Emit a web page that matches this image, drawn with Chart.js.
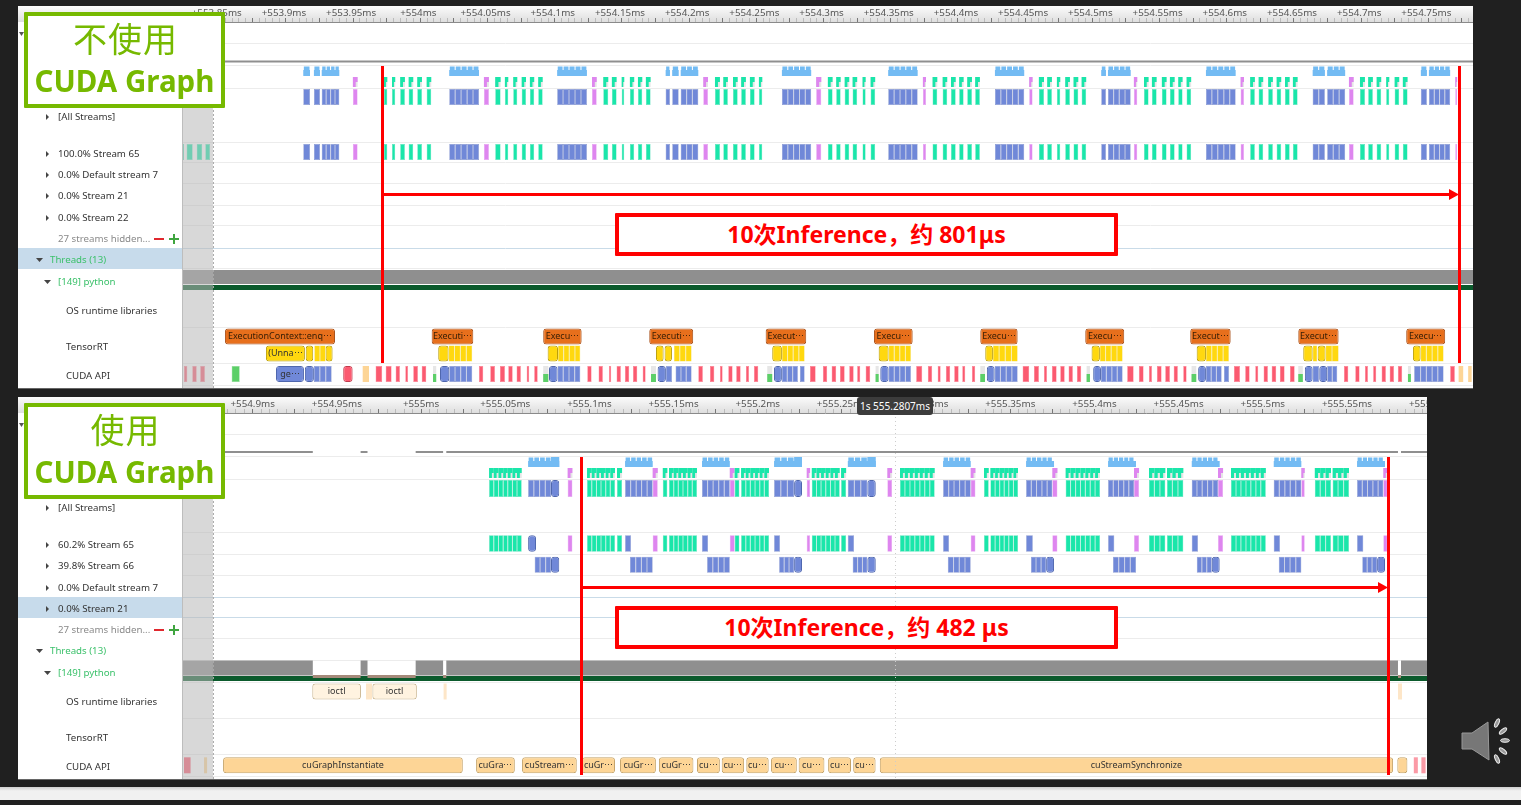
<!DOCTYPE html>
<html>
<head>
<meta charset="utf-8">
<title>CUDA Graph timeline</title>
<script src="https://cdn.jsdelivr.net/npm/chart.js@4"></script>
<style>
  html, body { margin: 0; width: 1521px; height: 805px; overflow: hidden; background: #202020; font-family: "Noto Sans", sans-serif; }
  .panel { position: absolute; left: 18px; height: 382px; background: #fff; overflow: hidden; box-shadow: 0 1px 0 #666; }
  .panel .head { position: absolute; left: 0; top: 0; right: 0; height: 16px; background: linear-gradient(#fbfbfb, #dedede); }
  .panel canvas { position: absolute; left: 0; top: 0; filter: blur(0.3px); }
  #p1 { top: 6px; width: 1455px; }
  #p2 { top: 397px; width: 1409px; }
  #footer { position: absolute; left: 0; top: 787px; width: 1521px; height: 13px; background: linear-gradient(#cfcfcf, #f1f1f1 30%); }
  .tag { position: absolute; left: 24px; width: 193px; height: 88px; border: 4px solid #76b900; background: #fff; color: #76b900; text-align: center; border-radius: 1px; }
  .tag .cn { font: 400 34px/40px "Noto Sans CJK SC"; height: 42px; margin-top: 2px; letter-spacing: 1px; text-indent: 2px; }
  .tag .en { font: 700 29.5px/42px "Noto Sans"; white-space: nowrap; }
  .note { position: absolute; left: 615px; width: 495px; height: 35px; border: 4px solid #f00; background: #fff; color: #f00; text-align: center; font: 700 23px/35px "Noto Sans", "Noto Sans CJK SC"; border-radius: 1px; white-space: nowrap; }
  #cursor { position: absolute; left: 857px; top: 397px; width: 76px; height: 18px; background: #3c3c3c; border-radius: 3px; color: #fff; font: 10px/19px "Noto Sans"; text-align: center; }
  svg { position: absolute; left: 0; top: 0; }
</style>
</head>
<body>
<div id="footer"></div>
<div class="panel" id="p1"><div class="head"></div><canvas id="chart1" width="1455" height="382"></canvas></div>
<div class="panel" id="p2"><div class="head"></div><canvas id="chart2" width="1449" height="382"></canvas></div>

<svg width="1521" height="805">
  <g fill="#f00" stroke="none">
    <rect x="381" y="66" width="3" height="297"/><rect x="1458" y="66" width="3" height="297"/>
    <rect x="383" y="193" width="1066" height="3"/><polygon points="1449,189 1459,194.5 1449,200"/>
    <rect x="580" y="457" width="3" height="318"/><rect x="1387" y="457" width="3" height="318"/>
    <rect x="582" y="586" width="797" height="3"/><polygon points="1378,582 1388,587.5 1378,593"/>
  </g>
  <g>
    <polygon points="1462,733 1472,733 1488,722 1489,760 1472,749 1462,749" fill="#777" stroke="#999"/>
    <g fill="#999" stroke="#eee">
      <ellipse cx="1497" cy="723" rx="1.8" ry="4.5" transform="rotate(25 1497 723)"/>
      <ellipse cx="1503" cy="731" rx="1.8" ry="4.5" transform="rotate(50 1503 731)"/>
      <ellipse cx="1505" cy="740.5" rx="1.8" ry="4.5" transform="rotate(90 1505 740.5)"/>
      <ellipse cx="1503" cy="751" rx="1.8" ry="4.5" transform="rotate(130 1503 751)"/>
      <ellipse cx="1497" cy="759" rx="1.8" ry="4.5" transform="rotate(155 1497 759)"/>
    </g>
  </g>
</svg>

<div class="tag" style="top:12px"><div class="cn">不使用</div><div class="en">CUDA Graph</div></div>
<div class="tag" style="top:403px"><div class="cn">使用</div><div class="en">CUDA Graph</div></div>
<div class="note" style="top:213px">10次Inference，约 801μs</div>
<div class="note" style="top:606px">10次Inference，约 482 μs</div>
<div id="cursor">1s 555.2807ms</div>

<script>
// ── Row names ─────────────────────────────────────────
const rowNames1 = ['[All Streams]', '100.0% Stream 65', '0.0% Default stream 7', '0.0% Stream 21', '0.0% Stream 22', '27 streams hidden...', 'Threads (13)', '[149] python', 'OS runtime libraries', 'TensorRT', 'CUDA API'];
const rowNames2 = ['[All Streams]', '60.2% Stream 65', '39.8% Stream 66', '0.0% Default stream 7', '0.0% Stream 21', '27 streams hidden...', 'Threads (13)', '[149] python', 'OS runtime libraries', 'TensorRT', 'CUDA API'];

// ── Top capture, no graph (microseconds after 553 ms) ─
// each run lists the cell edges of touching slices
const blue1 = [[912.9,917.9],[920.8,925.3],[926.6,929.9,933.2,936.5,939.7],[1021.5,1025.9,1030.3,1034.8,1039.2,1043.6],[1101.8,1106.2,1110.6,1115.1,1119.5,1123.9],[1182.5,1185.7],[1187.4,1192.2],[1193.7,1198.1,1202.4,1206.8],[1269,1273.4,1277.7,1282.1,1286.4,1290.8],[1348.1,1352.5,1356.9,1361.2,1365.6,1370],[1427.5,1431.9,1436.2,1440.6,1444.9,1449.3],[1506.6,1510.1],[1511.6,1515.8,1520,1524.3,1528.5],[1584.5,1588.9,1593.3,1597.8,1602.2,1606.6],[1663.9,1668.4,1673],[1674.7,1679.2,1683.6,1688.1],[1744.4,1748.9],[1750.4,1754.4,1758.3,1762.2,1766.2]];
const blueSpans1 = [[912.9,917.9],[920.8,925.3],[926.6,939.7],[1021.5,1043.6],[1101.8,1123.9],[1182.5,1185.7],[1187.4,1192.2],[1193.7,1206.8],[1269,1290.8],[1348.1,1370],[1427.5,1449.3],[1506.6,1510.1],[1511.6,1528.5],[1584.5,1606.6],[1663.9,1673],[1674.7,1688.1],[1744.4,1748.9],[1750.4,1766.2]];
const pink1 = [[949.8,953.3],[1047.3,1051],[1127.7,1131.2],[1210.5,1214],[1294.5,1298.3],[1373.9,1376.2],[1453,1455.5],[1530.9,1533.4],[1610.3,1612.8],[1690.9,1694.4],[1770,1771.4]];
const green1 = [[972.9,975.4],[978.9,981.3],[985,988.5],[991.3,994.7],[997.7,1001.2],[1004.7,1008.1],
  [1055.7,1059.7],[1062.9,1065.4],[1069.1,1072.1],[1075.4,1078.6],[1081.5,1084.7],[1087.7,1091],
  [1136.1,1139.8],[1142.5,1146],[1149.8,1151.7],[1155.9,1159.1],[1161.9,1165.1],[1167.8,1171.3],
  [1219.2,1222.9],[1225.4,1228.8],[1232.6,1236.1],[1238.7,1242.2],[1245.2,1248.7],[1251.9,1254.4],
  [1303.2,1306.7],[1309.4,1312.7],[1315.7,1319.1],[1321.6,1325],[1329,1331.3],[1335,1338.4],
  [1381.1,1384.6],[1388.6,1392],[1394.8,1398.3],[1400.9,1404.2],[1406.9,1410.4],[1412.8,1416.3],
  [1460.2,1464],[1466.4,1469.9],[1473.6,1476.1],[1479.8,1483.3],[1486,1489.5],[1492,1495.4],
  [1538.4,1541.8],[1544.3,1547.8],[1551.7,1555.2],[1557.7,1561.2],[1563.9,1567.1],[1570.1,1573.5],
  [1617.4,1620.9],[1623.7,1627.1],[1630.8,1634.3],[1637.1,1640.5],[1643.3,1646.8],[1649.2,1652.7],
  [1699.1,1702.8],[1705.2,1708.7],[1711.5,1714.9],[1718.6,1720.9],[1724.9,1728.3],[1731,1734.5]];
const streamFade1 = [[823.4,824.1],[826.1,830.6],[833.6,837.7],[840,843.5]];

const cpuBusy1 = [[823.4,1783.2]];
const tensorOuter1 = [[854.6,936.5],[1008.4,1039.4],[1091.4,1120],[1170.3,1203],[1256.9,1287.1],[1337.5,1366.3],[1416.6,1444.4],[1494.7,1523.7],[1572.8,1602.9],[1653.2,1683.2],[1733.5,1762.5]];
const tensorNames1 = ['ExecutionContext::enq⋯', 'Executi⋯', 'Execu⋯', 'Executi⋯', 'Execut⋯', 'Execu⋯', 'Execu⋯', 'Execu⋯', 'Execut⋯', 'Execut⋯', 'Execu⋯'];
const tensorCalls1 = [[885.1,914.1],[914.7,920.3],[929.5,934.7],[1013.3,1021],[1094.7,1102.4],[1175.3,1181],[1181.7,1187.2],[1261.8,1269],[1341,1348.4],[1420.3,1426],[1499.4,1505.6],[1577.6,1584.5],[1656.9,1663.9],[1667.6,1673.5],[1738.5,1744.2]];
const tensorCallNames1 = ['(Unna⋯'];
const tensorSlices1 = [[921.1,925.3,929.5],[1021,1025.4,1029.8,1034.2,1038.6],[1102.4,1106.6,1110.8,1115,1119],[1188.7,1193,1197.4,1201.8],[1269,1273.2,1277.4,1281.6,1285.9],[1348.4,1352.6,1356.7,1360.9,1365],[1426,1430.6,1435.2,1439.8,1444.4],[1505.6,1509.8,1514,1518.3,1522.5],[1584.5,1588.8,1593,1597.3,1601.6],[1663.9,1667.3],[1673.5,1678.3,1683.2],[1744.2,1748.5,1752.8,1757,1761.3]];

const apiCalls1 = [[892.6,913.4],[914.1,920.8],[1014.6,1021.5],[1095.7,1102.1],[1176.5,1182.7],[1263.1,1269],[1342.2,1348.4],[1421.5,1427.3],[1500.6,1506.4],[1578.7,1584.5],[1658.1,1663.9],[1668.8,1674.7]];
const apiCallNames1 = ['ge⋯'];
const apiSlices1 = [[920.8,925.2,929.6,934],[1021.5,1025.8,1030,1034.3,1038.6],[1102.1,1106.3,1110.6,1114.8,1119],[1182.7,1187.2],[1189.9,1193.9,1197.8,1201.8],[1269,1273,1277,1280.9],[1282.4,1285.9],[1348.4,1352.6,1356.7,1360.9,1365],[1427.3,1431.6,1435.9,1440.1,1444.4],[1506.4,1510.4,1514.5,1518.5,1522.5],[1584.5,1588.4,1592.3,1596.2],[1597.9,1601.6],[1663.9,1668.6],[1674.7,1678.5,1682.2],[1739.4,1744.2],[1744.2,1748.5,1752.8,1757,1761.3]];
const apiRed1 = [[966.7,971.6],[974.2,978.6],[981.6,984.8],[988.8,990.8],[994.7,998.2],[1001,1004.4],
  [1043.6,1046.8],[1052,1055.5],[1059.2,1062.9],[1065.4,1068.7],[1071.6,1074.8],[1079.1,1081],[1084.7,1087.3],
  [1124.2,1127.4],[1132.6,1135.8],[1140.3,1142],[1146,1149.2],[1152.2,1155.4],[1158.2,1161.4],[1165.4,1167.6],
  [1206.8,1210.2],[1215.5,1218.7],[1222.9,1224.9],[1229.1,1232.3],[1235,1238.3],[1242.2,1244.5],[1248.2,1251.4],
  [1289.9,1294.1],[1299.5,1302.7],[1306,1309.4],[1312.2,1315.7],[1319.1,1322.4],[1325,1327.3],[1331.3,1334.7],
  [1368.9,1373.4],[1377.6,1380.8],[1384.9,1387.1],[1391,1394.2],[1397.2,1400.5],[1403.2,1405.4],[1410.4,1412.8],
  [1448.1,1453],[1456.5,1460.2],[1464,1466.2],[1469.9,1473.4],[1476.1,1479.4],[1482.3,1485.5],[1488.5,1491.7],
  [1525.9,1530.7],[1534.6,1538.1],[1542.1,1544.3],[1548,1551.5],[1554.2,1557.7],[1560.5,1563.6],[1567.6,1570.1],
  [1605.3,1609.8],[1613.7,1617],[1621.2,1623.4],[1627.4,1630.6],[1633.4,1636.8],[1639.5,1643],[1647,1650.5],
  [1687.2,1690.4],[1695.6,1698.8],[1702.8,1705],[1708.9,1711.2],[1715.2,1718.4],[1721.2,1724.4],[1727.3,1730.5],
  [1766.2,1769.7]];
const apiRedRound1 = [[942.6,949.6]];
const apiFade1 = [[824.1,826.6],[830.3,833.6],[836.2,839.7]];
const apiGreenTall1 = [[859.6,865.6]];
const apiGreenLow1 = [[1009.4,1011.8],[1091.4,1095.2],[1171.6,1175.3],[1258.1,1261.8],[1338.7,1341],[1416.6,1420.1],[1495.7,1498.2],[1573.8,1577.3],[1653.2,1656.6],[1734.8,1737]];
const apiOrange1 = [[957.1,961.8],[1772.5,1775.9],[1779.6,1782.2]];

// ── Bottom capture, with graph (microseconds after 554 ms) ─
const blue2 = [[1063.6,1067,1070.4,1073.8,1077.2],[1121.2,1124.5,1127.8,1131,1134.3,1137.6],[1166.9,1170.2,1173.5,1176.8,1180.1,1183.4],[1209.7,1213.7,1217.6,1221.6],[1253.5,1257.4,1261.2,1265.1],[1310.1,1313.4,1316.6,1319.9,1323.2,1326.5],[1359.4,1362.5,1365.6,1368.8,1371.9,1375],[1408.1,1411.2,1414.3,1417.4,1420.4,1423.5],[1457.8,1460.9,1464,1467.2,1470.3,1473.4],[1506.5,1509.8,1513.1,1516.3,1519.6,1522.9],[1556,1559.1,1562.2,1565.4,1568.5,1571.6]];
const blueRound2 = [[1077.2,1082.1],[1221.6,1226.3],[1265.1,1270.1]];
const topBlue2 = [[1063.6,1082.1],[1121.2,1137.6],[1166.9,1183.4],[1209.7,1226.3],[1253.5,1270.1],[1310.1,1326.5],[1359.4,1376],[1408.1,1424.7],[1457.8,1474.4],[1506.5,1522.9],[1556,1572.6]];
const pink2 = [[1087.1,1089.9],[1137.6,1140.6],[1183.4,1186.3],[1229.1,1231.1],[1277,1279.8],[1326.5,1329.3],[1375,1378],[1423.5,1426.5],[1473.4,1476.4],[1522.9,1524.9],[1571.6,1574]];
const green2 = [[1040.4,1043.2,1046,1048.8,1051.5,1054.3,1057,1059.8],[1098.6,1101.4,1104.2,1106.9,1109.7,1112.4,1115.2],[1116.4,1119.4],[1143.6,1146.3],[1147.3,1150.1,1152.8,1155.6,1158.4,1161.1,1163.9],[1186.3,1189.1],[1190.1,1192.9,1195.6,1198.4,1201.2,1203.9,1206.7],[1232.1,1234.9,1237.6,1240.4,1243.2,1245.9,1248.7],[1249.5,1252.5],[1284.5,1287.4,1290.4,1293.3,1296.3,1299.2,1302.2,1305.1],[1334.4,1337.2],[1338.2,1341,1343.7,1346.4,1349.1,1351.9,1354.6],[1382.9,1385.8,1388.8,1391.7,1394.6,1397.5,1400.4,1403.3],[1432.4,1435.6,1438.9,1442.1],[1443.1,1446.3,1449.6,1452.8],[1481.1,1484.1,1487,1490,1492.9,1495.9,1498.8,1501.8],[1530.9,1534.1,1537.3,1540.5],[1541.5,1544.7,1548,1551.2]];
const stream65Blue2 = [[1121.2,1124.7],[1166.9,1170.5],[1209.7,1213.2],[1253.5,1257.2],[1310.1,1313.6],[1359.4,1363.4],[1408.1,1411.8],[1457.8,1461.5],[1506.5,1510.2],[1556,1559.7]];
const stream65Round2 = [[1063.6,1068.3]];
const stream66Blue2 = [[1067.5,1070.7,1074,1077.2],[1124.1,1127.5,1130.9,1134.2,1137.6],[1169.9,1173.3,1176.6,1180,1183.4],[1212.7,1215.7,1218.6,1221.6],[1256.4,1259.3,1262.2,1265.1],[1312.9,1316.3,1319.7,1323.1,1326.5],[1362.3,1365.3,1368.3,1371.3],[1411,1414.4,1417.9,1421.3,1424.7],[1460.8,1463.8,1466.7,1469.7],[1509.5,1512.9,1516.2,1519.6,1522.9],[1559.1,1562,1564.9,1567.9]];
const stream66Round2 = [[1077.2,1082.1],[1221.6,1226.3],[1265.1,1270.1],[1371.3,1376],[1469.7,1474.4],[1567.9,1572.6]];

const cpuBusy2 = [[858.6,935.7],[964.1,968.2],[996.8,1013.1],[1015,1580.3],[1582.1,1621.3]];
const cpuBlocked2 = [[935.7,964.1],[968.2,996.8],[1013.1,1015],[1580.3,1582.1]];
const cpuState2 = [[858.6,1621.3]];
const osCalls2 = [[935.4,964.3],[971.1,997.5]];
const osNames2 = ['ioctl', 'ioctl'];
const osFaint2 = [[967.3,970.9],[1013.4,1015.2],[1580.3,1582.7]];
const apiCalls2 = [[882.4,1024.8],[1032.7,1055.7],[1060,1092.5],[1095.6,1115.2],[1118.2,1139.5],[1141.3,1161.8],[1163.9,1177.5],[1178.6,1191.9],[1193.2,1206.5],[1207.9,1223.2],[1224.3,1239.6],[1241.8,1255.4],[1256.7,1270],[1272.5,1577.4],[1579.9,1585.9]];
const apiNames2 = ['cuGraphInstantiate', 'cuGra⋯', 'cuStream⋯', 'cuGr⋯', 'cuGr⋯', 'cuGr⋯', 'cu⋯', 'cu⋯', 'cu⋯', 'cu⋯', 'cu⋯', 'cu⋯', 'cu⋯', 'cuStreamSynchronize', ''];
const apiRed2 = [[1589.7,1592.1],[1594.2,1596.7]];
const apiFadeRed2 = [[859.2,863.1]];
const apiFadeOrange2 = [[871.1,872.9]];

// ── Helpers ───────────────────────────────────────────
const COLORS = {
  sky: '#73bbf3', blue: '#7088d8', pink: '#de86ef', green: '#1ae6aa', stub: '#e6e6e6',
  orange: '#e76f1c', yellow: '#ffd80f', red: '#fb5a70', apiGreen: '#5ccf68', apiOrange: '#fdd596',
  cpu: '#8f8f8f', cpuState: '#0b5a2c', blocked: '#a58a7a'
};
const EDGES = {
  [COLORS.blue]: '#8291c6', [COLORS.green]: '#5ddcb9', [COLORS.pink]: '#e3a0ef',
  [COLORS.yellow]: '#efd54c', [COLORS.red]: '#fb7a8b', [COLORS.apiGreen]: '#84d68d'
};

const cells = runs => runs.flatMap(r => r.slice(1).map((end, i) => [r[i], end]));

function track(spans, lane, height, color, extra) {
  return Object.assign({
    data: spans.map(s => ({ x: s, y: lane })),
    backgroundColor: color,
    borderColor: EDGES[color] || color,
    borderWidth: 0.5,
    borderSkipped: false,
    grouped: false,
    barPercentage: 100,
    maxBarThickness: height
  }, extra);
}
const rounded = (dark, names) => ({ borderColor: dark, borderWidth: 1, borderRadius: 3, names });
const plain = { borderWidth: 0 };

// small upper lane: a bar head with a short stem over a grey stub
function stubLane(spans, lane, color) {
  return [
    track(spans, lane, 10, COLORS.stub, plain),
    track(spans.map(([a, b]) => [a, a + (b - a) * 0.6]), lane + 2.5, 5, color, plain),
    track(spans, lane - 2.5, 5, color, plain)
  ];
}

// ── Timeline plugin: labels, row tree, shaded lead-in ─
function timelinePlugin(cfg) {
  return {
    id: 'timeline',
    beforeDraw(chart) {
      const { ctx, chartArea } = chart;
      const y = chart.scales.y;
      ctx.save();
      ctx.fillStyle = '#c7dbeb';
      cfg.marked.forEach(([a, b]) => ctx.fillRect(0, y.getPixelForValue(a), chartArea.left, b - a));
      ctx.fillStyle = '#bdbdbd';
      ctx.fillRect(chartArea.left - 1, chartArea.top, 1, chartArea.height);
      ctx.restore();
    },
    afterDatasetsDraw(chart) {
      const { ctx, chartArea, scales } = chart;
      const { x, y } = scales;
      ctx.save();

      // names inside the slices
      ctx.font = '9px "Noto Sans"';
      ctx.textAlign = 'center';
      ctx.textBaseline = 'middle';
      chart.data.datasets.forEach((ds, i) => {
        if (!ds.names) return;
        chart.getDatasetMeta(i).data.forEach((el, k) => {
          if (!ds.names[k]) return;
          ctx.fillStyle = ds.nameColor || '#333';
          ctx.fillText(ds.names[k], (el.x + el.base) / 2, el.y);
        });
      });

      // shaded lead-in before the capture starts
      const edge = x.getPixelForValue(cfg.captureStart);
      ctx.fillStyle = 'rgba(184,184,184,0.55)';
      ctx.fillRect(chartArea.left, chartArea.top, edge - chartArea.left, chartArea.height);
      ctx.strokeStyle = '#aaa';
      ctx.setLineDash([2, 2]);
      ctx.beginPath();
      ctx.moveTo(edge + 0.5, chartArea.top);
      ctx.lineTo(edge + 0.5, chartArea.bottom);
      ctx.stroke();

      if (cfg.cursor) {
        const cx = Math.round(x.getPixelForValue(cfg.cursor)) + 0.5;
        ctx.strokeStyle = '#ccc';
        ctx.setLineDash([1, 3]);
        ctx.beginPath();
        ctx.moveTo(cx, chartArea.top);
        ctx.lineTo(cx, chartArea.bottom);
        ctx.stroke();
      }
      ctx.setLineDash([]);

      // row tree on the left
      ctx.textAlign = 'left';
      ctx.font = '9.7px "Noto Sans"';
      cfg.names.forEach((name, i) => {
        const py = y.getPixelForValue(cfg.centers[i]);
        const isThread = /Threads|python/.test(name);
        const isLeaf = /OS runtime|TensorRT|CUDA API/.test(name);
        const isHidden = /hidden/.test(name);
        const left = isLeaf ? 48 : name.startsWith('Threads') ? 32 : 40;
        ctx.fillStyle = isThread ? '#3cc16b' : isHidden ? '#8a8a8a' : '#333';
        ctx.fillText(name, left, py);
        if (isHidden) {
          ctx.fillStyle = '#e0282e';
          ctx.fillRect(136, py - 1, 10, 2);
          ctx.fillStyle = '#3fa53f';
          ctx.fillRect(151, py - 1, 10, 2);
          ctx.fillRect(155, py - 5, 2, 10);
        } else if (!isLeaf) {
          ctx.fillStyle = '#444';
          ctx.beginPath();
          if (isThread) {
            const tx = left - 11;
            ctx.moveTo(tx - 3, py - 2); ctx.lineTo(tx + 4, py - 2); ctx.lineTo(tx + 0.5, py + 2);
          } else {
            ctx.moveTo(28, py - 3); ctx.lineTo(31, py); ctx.lineTo(28, py + 3);
          }
          ctx.fill();
        }
      });
      // collapsed group arrow behind the tag
      ctx.fillStyle = '#555';
      ctx.beginPath();
      ctx.moveTo(1, 26); ctx.lineTo(6, 26); ctx.lineTo(3.5, 30);
      ctx.fill();
      ctx.restore();
    }
  };
}

function drawTimeline(canvasId, cfg) {
  new Chart(document.getElementById(canvasId), {
    type: 'bar',
    data: { datasets: cfg.tracks.slice().reverse() },
    options: {
      indexAxis: 'y',
      responsive: false,
      animation: false,
      events: [],
      layout: { padding: { left: 165 } },
      plugins: { legend: { display: false }, tooltip: { enabled: false } },
      scales: {
        x: {
          type: 'linear',
          position: 'top',
          min: cfg.range[0],
          max: cfg.range[1],
          afterFit: s => { s.height = 16; },
          border: { color: '#8a8a8a' },
          grid: {
            drawOnChartArea: false,
            tickLength: 4,
            tickColor: c => (c.tick.value % 25 === 0 ? '#777' : '#bbb')
          },
          ticks: {
            stepSize: 5,
            padding: -1,
            labelOffset: cfg.labelShift,
            autoSkip: false,
            maxRotation: 0,
            minRotation: 0,
            includeBounds: false,
            color: '#555',
            font: { family: 'Noto Sans', size: 9.8 },
            callback: v => (v % 50 === 0 ? `+${(cfg.baseUs + v) / 1000}ms` : '')
          }
        },
        y: {
          type: 'linear',
          reverse: true,
          offset: false,
          min: cfg.extent[0],
          max: cfg.extent[1],
          afterFit: s => { s.width = 0; },
          afterBuildTicks: s => { s.ticks = cfg.rowLines.map(v => ({ value: v })); },
          border: { display: false },
          grid: {
            offset: false,
            drawTicks: false,
            color: c => (cfg.blueLines.includes(c.tick && c.tick.value) ? '#c9dbe8' : '#ececec')
          },
          ticks: { display: false, autoSkip: false }
        }
      }
    },
    plugins: [timelinePlugin(cfg)]
  });
}

// ── Init ──────────────────────────────────────────────
const blueCells1 = cells(blue1);
drawTimeline('chart1', {
  range: [823.4, 1783.2],
  extent: [22, 388],
  baseUs: 553000,
  labelShift: -2,
  captureStart: 845.7,
  rowLines: [43, 65, 88, 142, 162, 183, 205, 226, 248, 268, 327, 363, 385],
  blueLines: [248],
  marked: [[248, 269]],
  names: rowNames1,
  centers: [117, 154, 175, 196, 218, 239, 260, 282, 311, 347, 376],
  tracks: [
    track(cpuBusy1, 61.5, 2, COLORS.cpu, plain),
    track(blueCells1, 71, 10, COLORS.sky, { borderColor: '#fff' }),
    track(blueSpans1, 73, 6, COLORS.sky, plain),
    ...stubLane(pink1, 82, COLORS.pink),
    ...stubLane(green1, 82, COLORS.green),
    track(blueCells1, 97, 16, COLORS.blue),
    track(pink1, 97, 16, COLORS.pink),
    track(green1, 97, 16, COLORS.green),
    track(streamFade1, 152, 16, COLORS.green),
    track(blueCells1, 152, 16, COLORS.blue),
    track(pink1, 152, 16, COLORS.pink),
    track(green1, 152, 16, COLORS.green),
    track(cpuBusy1, 277, 14, COLORS.cpu, plain),
    track(cpuBusy1, 287.5, 5, COLORS.cpuState, plain),
    track(tensorOuter1, 336.5, 16, COLORS.orange, Object.assign(rounded('#a9521c', tensorNames1), { nameColor: '#3a2006' })),
    track(tensorCalls1, 353.5, 16, COLORS.yellow, rounded('#b99d08', tensorCallNames1)),
    track(cells(tensorSlices1), 353.5, 16, COLORS.yellow),
    track(cells(apiSlices1), 374, 16, COLORS.blue),
    track(apiCalls1, 374, 16, COLORS.blue, rounded('#4f67ae', apiCallNames1)),
    track(apiRed1, 374, 16, COLORS.red),
    track(apiRedRound1, 374, 16, COLORS.red, rounded('#c23a4c')),
    track(apiFade1, 374, 16, COLORS.red),
    track(apiGreenTall1, 374, 16, COLORS.apiGreen),
    track(apiGreenLow1, 374, 16, COLORS.stub, plain),
    track(apiGreenLow1, 378, 8, COLORS.apiGreen, plain),
    track(apiOrange1, 374, 16, COLORS.apiOrange, plain)
  ]
});

const blueCells2 = cells(blue2);
const greenCells2 = cells(green2);
drawTimeline('chart2', {
  range: [858.6, 1621.3],
  extent: [413, 779],
  baseUs: 554000,
  labelShift: 0,
  captureStart: 876.4,
  cursor: 1281.5,
  rowLines: [434, 456, 479, 532, 554, 575, 597, 618, 638, 660, 682, 718, 754, 776],
  blueLines: [597, 618],
  marked: [[597, 618]],
  names: rowNames2,
  centers: [508, 545, 566, 588, 609, 630, 651, 673, 702, 738, 767],
  tracks: [
    track(cpuBusy2, 452, 2, COLORS.cpu, plain),
    track(blueCells2, 462, 10, COLORS.sky, { borderColor: '#fff' }),
    track(blueRound2, 462, 10, COLORS.sky, plain),
    track(topBlue2, 464, 6, COLORS.sky, plain),
    ...stubLane(pink2, 473, COLORS.pink),
    ...stubLane(greenCells2, 473, COLORS.green),
    track(blueCells2, 488.5, 17, COLORS.blue),
    track(blueRound2, 488.5, 17, COLORS.blue, rounded('#4f67ae')),
    track(pink2, 488.5, 17, COLORS.pink),
    track(greenCells2, 488.5, 17, COLORS.green),
    track(stream65Blue2, 543.5, 16.5, COLORS.blue),
    track(stream65Round2, 543.5, 16.5, COLORS.blue, rounded('#4f67ae')),
    track(pink2, 543.5, 16.5, COLORS.pink),
    track(greenCells2, 543.5, 16.5, COLORS.green),
    track(cells(stream66Blue2), 564.7, 16, COLORS.blue),
    track(stream66Round2, 564.7, 16, COLORS.blue, rounded('#4f67ae')),
    track(cpuBusy2, 668, 15, COLORS.cpu, plain),
    track(cpuState2, 678.5, 5, COLORS.cpuState, plain),
    track(cpuBlocked2, 676.5, 3, COLORS.blocked, plain),
    track(osCalls2, 691.5, 16, '#fff3e0', rounded('#c9b48c', osNames2)),
    track(osFaint2, 691.5, 16, '#fde6c8', plain),
    track(apiCalls2, 765.3, 16, COLORS.apiOrange, rounded('#c4a266', apiNames2)),
    track(apiRed2, 765.3, 16, COLORS.red, { backgroundColor: '#fb9aa6', borderWidth: 0 }),
    track(apiFadeRed2, 765.3, 16, COLORS.red, plain),
    track(apiFadeOrange2, 765.3, 16, COLORS.apiOrange, plain)
  ]
});
</script>
</body>
</html>
